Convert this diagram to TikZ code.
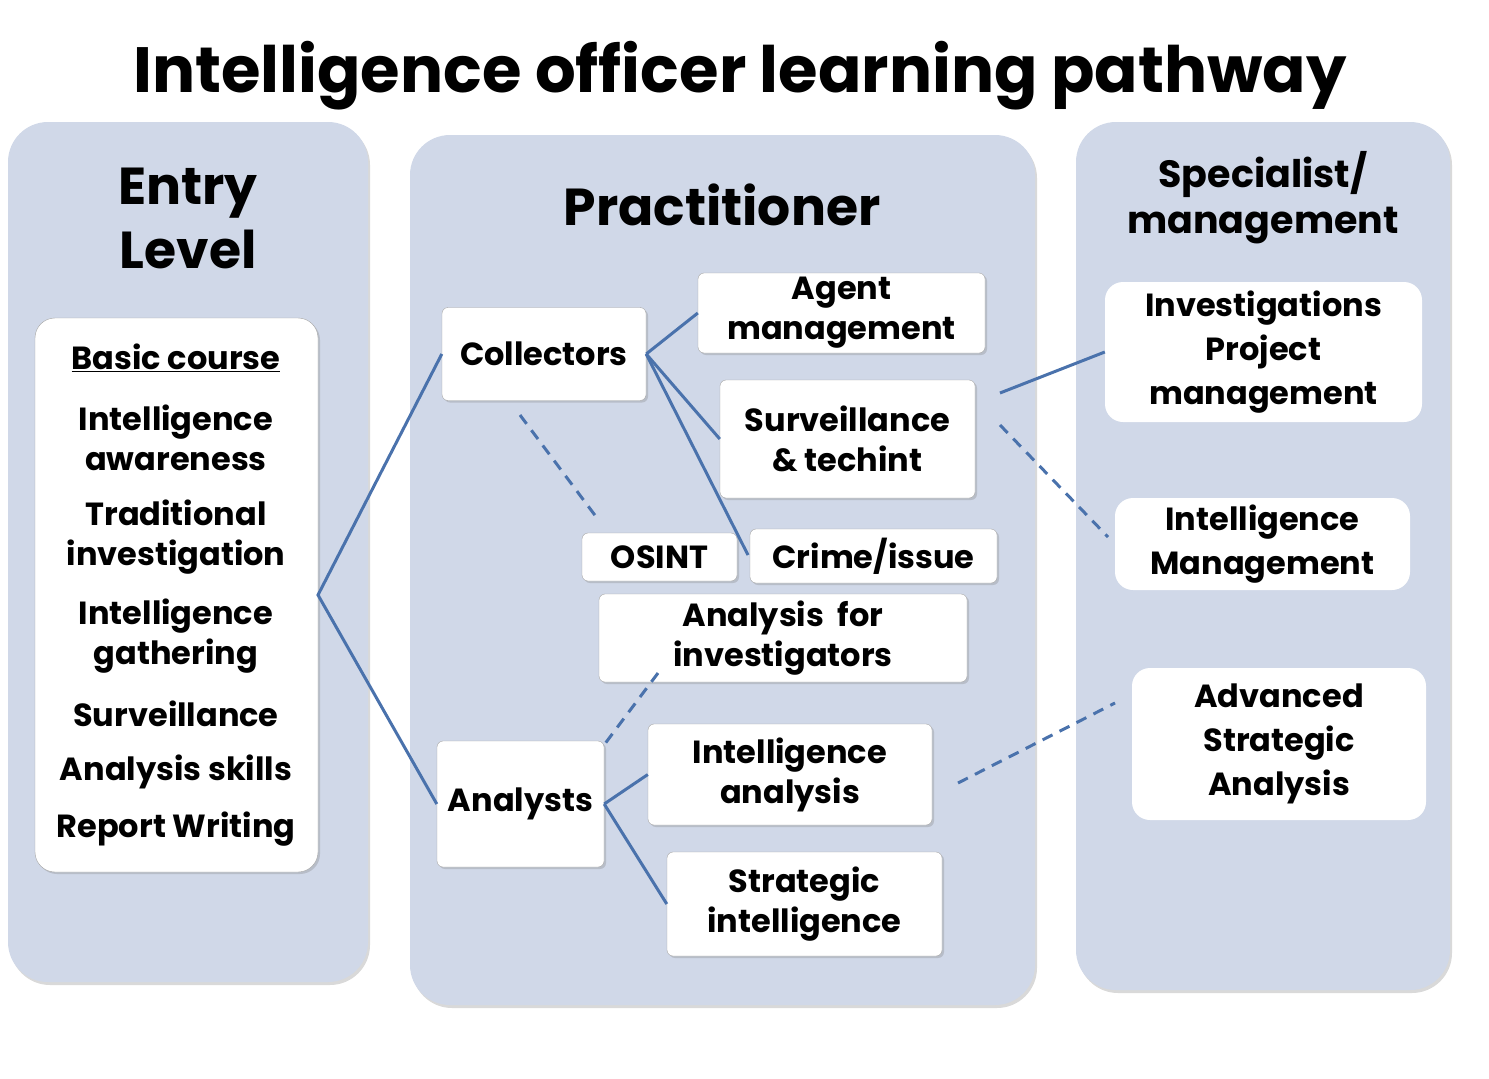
\documentclass[tikz,border=0pt]{standalone}
\usepackage{fontspec}
\setmainfont{Poppins}
\usetikzlibrary{shadows}
\definecolor{panel}{HTML}{D0D8E8}
\definecolor{ln}{HTML}{4A72AC}
\begin{document}
\begin{tikzpicture}[x=1pt,y=-1pt,
 panel/.style={fill=panel,rounded corners=40pt,drop shadow={shadow xshift=2pt,shadow yshift=-3pt,opacity=0.3}},
 box/.style={draw=gray!70,fill=white,rounded corners=6pt,align=center,font=\fontsize{32}{40}\selectfont\bfseries,inner sep=0pt,drop shadow={shadow xshift=2pt,shadow yshift=-2pt,opacity=0.3}},
 wbox/.style={fill=white,rounded corners=18pt,align=center,font=\fontsize{32}{44}\selectfont\bfseries,inner sep=0pt},
 lt/.style={align=center,font=\fontsize{32}{40}\selectfont\bfseries},
 con/.style={ln,line width=3pt},
 dcon/.style={ln,line width=3pt,dash pattern=on 11pt off 8pt}]
\useasboundingbox (0,0) rectangle (1489,1079);
\node at (740,76) {\fontsize{64}{70}\selectfont\bfseries Intelligence officer learning pathway};
\path[panel] (8,122) rectangle (368,982);
\path[panel] (410,135) rectangle (1035,1005);
\path[panel] (1076,122) rectangle (1450,990);
\node[align=center,font=\fontsize{52}{64}\selectfont\bfseries] at (188,218) {Entry\\Level};
\node[font=\fontsize{52}{60}\selectfont\bfseries] at (722,205) {Practitioner};
\node[align=center,font=\fontsize{38}{46}\selectfont\bfseries] at (1263,198) {Specialist/\\management};
\node[box,minimum width=283pt,minimum height=554pt,rounded corners=20pt] (basic) at (176.5,595) {};
\node[lt] at (176,358) {\underline{Basic course}};
\node[lt] at (176,438) {Intelligence\\awareness};
\node[lt] at (176,537) {Traditional\\investigation};
\node[lt] at (176,636) {Intelligence\\gathering};
\node[lt] at (176,714) {Surveillance};
\node[lt] at (176,772) {Analysis skills};
\node[lt] at (176,829) {Report Writing};
\coordinate (br) at (318,595);
\node[box,minimum width=204pt,minimum height=93pt] (col) at (544,354) {Collectors};
\node[box,minimum width=287pt,minimum height=80pt] (agent) at (841.5,313) {Agent\\management};
\node[box,minimum width=255pt,minimum height=118pt] (surv) at (847.5,439) {Surveillance\\\& techint};
\node[box,minimum width=155pt,minimum height=48pt] (osint) at (659.5,557) {OSINT};
\node[box,minimum width=247pt,minimum height=54pt] (crime) at (873.5,556) {Crime/issue};
\node[box,minimum width=368pt,minimum height=88pt] (afi) at (783,638) {Analysis\ \ for\\investigators};
\node[box,minimum width=167pt,minimum height=126pt] (ana) at (520.5,804) {Analysts};
\node[box,minimum width=284pt,minimum height=101pt] (ia) at (790,774.5) {Intelligence\\analysis};
\node[box,minimum width=275pt,minimum height=104pt] (si) at (804.5,904) {Strategic\\intelligence};
\node[wbox,minimum width=317pt,minimum height=140pt] (inv) at (1263.5,352) {Investigations\\Project\\management};
\node[wbox,minimum width=295pt,minimum height=92pt] (im) at (1262.5,544) {Intelligence\\Management};
\node[wbox,minimum width=294pt,minimum height=152pt] (asa) at (1279,744) {Advanced\\Strategic\\Analysis};
\draw[con] (col.west) -- (br) -- (ana.west);
\draw[con] (col.east) -- (agent.west);
\draw[con] (col.east) -- (surv.west);
\draw[con] (col.east) -- (748,555);
\draw[dcon] (520,415) -- (597,518);
\draw[dcon] (658,673) -- (604,745);
\draw[con] (ana.east) -- (ia.west);
\draw[con] (ana.east) -- (si.west);
\draw[con] (1000,393) -- (inv.west);
\draw[dcon] (1000,425) -- (1108,537);
\draw[dcon] (958,783) -- (1115,703);
\end{tikzpicture}
\end{document}
